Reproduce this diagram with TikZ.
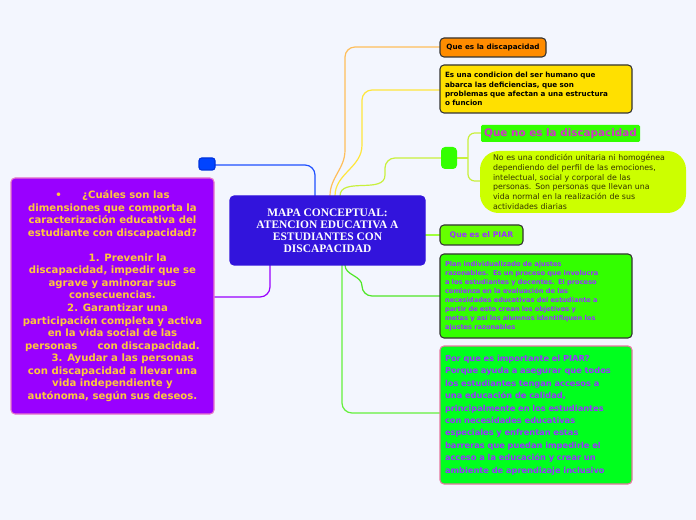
\documentclass[tikz,border=0pt]{standalone}
\usepackage{fontspec}
\setmainfont{DejaVu Sans}
\newfontfamily\serifb{Liberation Serif}
\begin{document}
\begin{tikzpicture}[x=0.75pt,y=-0.75pt,
 box/.style={draw=black!80,line width=0.8pt,rounded corners=3pt,inner sep=0pt},
 conn/.style={line width=0.9pt}]
\fill[fill={rgb,255:red,243;green,246;blue,254}] (0,0) rectangle (696,520);
\useasboundingbox (0,0) rectangle (696,520);
\definecolor{pur}{RGB}{153,51,255}
% connectors
\draw[conn,draw={rgb,255:red,255;green,190;blue,90}] (330,196) to[out=90,in=-90] (345,150) -- (345,57) to[out=90,in=180] (355,47) -- (440,47);
\draw[conn,draw={rgb,255:red,255;green,230;blue,60}] (335,196) to[out=90,in=-90] (362,145) -- (362,100) to[out=90,in=180] (372,90) -- (440,90);
\draw[conn,draw={rgb,255:red,200;green,240;blue,60}] (340,196) to[out=90,in=-90] (385,175) -- (385,168) to[out=90,in=180] (395,158) -- (441,158);
\draw[conn,draw={rgb,255:red,160;green,255;blue,60}] (425,235) -- (440,235);
\draw[conn,draw={rgb,255:red,80;green,230;blue,40}] (345,265) to[out=-90,in=90] (362,286) to[out=-90,in=180] (372,296) -- (440,296);
\draw[conn,draw={rgb,255:red,100;green,240;blue,60}] (342,265) -- (342,403) to[out=-90,in=180] (352,413) -- (440,413);
\draw[conn,draw={rgb,255:red,30;green,80;blue,255}] (315,196) -- (315,175) to[out=90,in=0] (305,165) -- (215,165);
\draw[conn,draw={rgb,255:red,153;green,0;blue,255}] (270,265) -- (270,287) to[out=-90,in=0] (260,297) -- (214,297);
\draw[conn,draw={rgb,255:red,200;green,240;blue,60}] (457,158) -- (468,158);
\draw[conn,draw={rgb,255:red,200;green,240;blue,60},rounded corners=5pt] (481,133) -- (468,133) -- (468,181) -- (481,181);
% nodes
\node[box,fill={rgb,255:red,50;green,20;blue,220},draw={rgb,255:red,50;green,20;blue,220},minimum width=195*0.75pt,minimum height=69*0.75pt,align=center,text=white,font=\serifb\bfseries\fontsize{8.6}{9}\selectfont] (c) at (327.5,230.5) {MAPA CONCEPTUAL:\\ATENCION EDUCATIVA A\\ESTUDIANTES CON\\DISCAPACIDAD};
\node[box,rounded corners=2pt,fill={rgb,255:red,0;green,68;blue,255},draw={rgb,255:red,0;green,50;blue,220},minimum width=16*0.75pt,minimum height=12*0.75pt] (b) at (207,164) {};
\node[box,draw={rgb,255:red,230;green,120;blue,200},fill={rgb,255:red,153;green,0;blue,255},minimum width=203*0.75pt,minimum height=236*0.75pt,align=center,text={rgb,255:red,255;green,200;blue,60},font=\bfseries\fontsize{7.6}{9.4}\selectfont] (l) at (112.5,296) {•\qquad ¿Cuáles son las\\dimensiones que comporta la\\caracterización educativa del\\estudiante con discapacidad?\\[9.4pt]
\qquad\quad 1. Prevenir la\\discapacidad, impedir que se\\agrave y aminorar sus\\consecuencias.\\
\quad 2. Garantizar una\\participación completa y activa\\en la vida social de las\\personas\qquad con discapacidad.\\
\qquad 3. Ayudar a las personas\\con discapacidad a llevar una\\vida independiente y\\autónoma, según sus deseos.};
\node[box,fill={rgb,255:red,255;green,140;blue,0},minimum width=106*0.75pt,minimum height=19*0.75pt,font=\bfseries\fontsize{5.4}{7}\selectfont] (q1) at (493,47.5) {Que es la discapacidad};
\node[box,fill={rgb,255:red,255;green,224;blue,0},minimum width=192*0.75pt,minimum height=48*0.75pt,text width=182*0.75pt,align=left,font=\bfseries\fontsize{5.4}{7}\selectfont] (q2) at (536,89) {Es una condicion del ser humano que\\abarca las deficiencias, que son\\problemas que afectan a una estructura\\o funcion};
\node[box,draw=none,fill={rgb,255:red,51;green,255;blue,0},minimum width=16*0.75pt,minimum height=22*0.75pt] (g) at (449,158) {};
\node[box,draw=none,rounded corners=1pt,fill={rgb,255:red,51;green,255;blue,0},minimum width=159*0.75pt,minimum height=17*0.75pt,text={rgb,255:red,210;green,50;blue,200},font=\bfseries\fontsize{7.8}{9}\selectfont] (q3) at (560.5,133.5) {Que no es la discapacidad};
\node[box,draw=none,rounded corners=14pt,fill={rgb,255:red,204;green,255;blue,0},minimum width=206*0.75pt,minimum height=62*0.75pt,text width=180*0.75pt,align=left,text={rgb,255:red,50;green,50;blue,0},font=\fontsize{5.9}{7.3}\selectfont] (q4) at (583,182) {No es una condición unitaria ni homogénea\\dependiendo del perfil de las emociones,\\intelectual, social y corporal de las\\personas. Son personas que llevan una\\vida normal en la realización de sus\\actividades diarias};
\node[box,fill={rgb,255:red,102;green,255;blue,0},minimum width=83*0.75pt,minimum height=20*0.75pt,text=pur,font=\bfseries\fontsize{5.8}{7}\selectfont] (q5) at (481.5,235) {Que es el PIAR};
\node[box,fill={rgb,255:red,51;green,255;blue,0},minimum width=192*0.75pt,minimum height=84*0.75pt,text width=182*0.75pt,align=left,text=pur,font=\bfseries\fontsize{5}{6.8}\selectfont] (q6) at (536,296) {Plan individualizado de ajustes\\razonables.\ \ Es un proceso que involucra\\a los estudiantes y docentes. El proceso\\comienza en la evaluación de las\\necesidades educativas del estudiante a\\partir de esto crean los objetivos y\\metas y así los alumnos identifiquen los\\ajustes razonables};
\node[box,draw={rgb,255:red,230;green,120;blue,160},fill={rgb,255:red,0;green,255;blue,30},minimum width=192*0.75pt,minimum height=138*0.75pt,text width=182*0.75pt,align=left,text=pur,font=\bfseries\fontsize{6.2}{9.3}\selectfont] (q7) at (536,415) {Por que es importante el PIAR?\\Porque ayuda a asegurar que todos\\los estudiantes tengan accesos a\\una educación de calidad,\\principalmente en los estudiantes\\con necesidades educativas\\especiales y enfrentan estas\\barreras que puedan impedirle el\\acceso a la educación y crear un\\ambiente de aprendizaje inclusivo};
\end{tikzpicture}
\end{document}
